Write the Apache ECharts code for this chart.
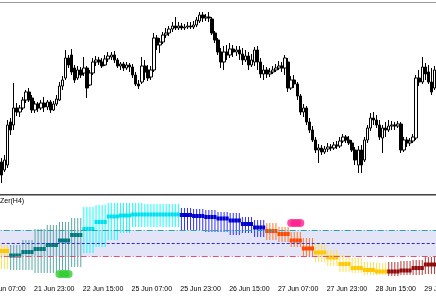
<!DOCTYPE html>
<html><head><meta charset="utf-8">
<script src="https://cdn.jsdelivr.net/npm/echarts@6/dist/echarts.min.js"></script>
<style>html,body{margin:0;padding:0;background:#fff;}#c{width:436px;height:300px;}</style>
</head><body><div id="c"></div>
<script>
// ---- time axis (H1 bars) ----
const barCount = 149;            // H1 bars on the axis (first few are left of the visible area)
const tickEvery = 16;            // a time label every 16 H1 bars
const tickLabels = ["21 Jun 07:00","21 Jun 23:00","22 Jun 15:00","25 Jun 07:00","25 Jun 23:00",
                    "26 Jun 15:00","27 Jun 07:00","27 Jun 23:00","28 Jun 15:00","29 Jun 07:00"];
const firstCandle = 6;           // index of the first drawn candle

// ---- price candles (H1) ----
const open = [38,30,35,78,75,92,88,92,100,108,
 102,90,96,92,97,93,98,90,96,100,
 114,122,142,145,132,122,130,127,132,115,
 127,138,140,138,135,141,143,145,140,134,
 136,132,135,133,125,116,118,134,130,123,
 130,162,155,158,165,167,171,174,172,174,
 172,173,174,173,175,179,185,182,183,181,
 167,160,148,138,148,145,151,148,150,146,
 140,144,135,138,150,138,126,130,126,128,
 130,132,134,132,138,112,120,116,104,88,
 92,78,70,60,50,52,48,51,53,52,
 55,54,59,63,60,57,50,35,50,40,
 60,72,82,80,75,62,72,70,74,75,
 74,76,50,60,57,59,62,122,118,133,
 128,118,112];
const close = [25,40,75,70,92,88,92,100,108,100,
 90,96,92,97,93,98,90,96,101,114,
 120,142,135,128,120,130,125,132,112,127,
 138,140,138,134,141,144,145,140,134,136,
 132,135,133,125,116,114,134,128,122,130,
 162,155,158,165,167,171,174,172,174,172,
 173,174,173,175,180,185,182,183,182,167,
 160,148,138,148,145,151,148,150,146,140,
 144,135,140,150,138,126,130,126,128,130,
 132,134,132,142,112,120,116,104,88,92,
 78,70,60,50,52,48,51,53,52,55,
 54,59,63,60,57,50,40,50,35,60,
 72,82,80,75,63,72,70,74,75,74,
 76,50,60,57,59,63,122,118,133,126,
 118,108,130];
const low = [17,28,32,65,70,84,83,90,97,98,
 87,87,88,90,88,90,87,89,94,99,
 110,120,132,125,117,120,122,124,102,114,
 125,134,135,132,134,138,140,137,132,130,
 129,130,128,122,114,111,116,120,119,120,
 128,150,147,156,162,164,168,170,170,170,
 170,171,171,171,173,177,178,179,178,165,
 157,145,132,130,140,142,143,144,140,135,
 138,130,133,134,130,122,120,122,123,126,
 128,130,128,125,108,110,112,100,85,83,
 75,67,58,47,37,45,46,48,49,50,
 51,52,57,57,55,48,35,27,27,38,
 57,69,75,72,60,47,63,68,70,70,
 72,47,48,53,54,57,60,114,116,120,
 116,105,110];
const high = [42,45,80,82,117,97,95,103,110,112,
 105,99,98,100,103,100,100,99,105,118,
 124,150,145,151,135,134,133,143,134,130,
 142,144,143,142,145,148,148,149,142,138,
 138,138,137,136,128,120,143,140,135,134,
 167,165,162,168,172,174,178,183,178,177,
 176,178,178,179,183,188,188,186,188,183,
 169,162,152,154,155,157,155,154,154,152,
 150,148,146,153,154,142,135,133,132,134,
 136,139,138,145,142,124,125,118,106,96,
 94,82,74,63,56,55,54,57,56,58,
 59,63,66,65,64,60,53,54,55,63,
 75,87,88,85,80,75,78,80,79,78,
 79,78,63,63,62,66,125,130,143,137,
 135,132,134];

// ---- indicator Zer(H4): one value per H4 bar (4 H1 bars each) ----
const h4First = 5;      // first H1 index of the first (partial) H4 bar
const h4Span = 4;
const indHigh  = [-2,-2,3,14,18,21,25,36,38,40,40,40,39,39,39,35,34,33,31,30,26,23,20,16,11,5,0,-7,-12,-15,-19,-20,-19,-18,-17,-14];
const indLow   = [-26,-27,-27,-30,-30,-27,-24,-10,-4,3,10,16,16,16,16,13,13,11,11,8,10,6,3,1,-4,-14,-19,-23,-29,-30,-32,-32,-33,-32,-32,-31];
const indLevel = [-8,-12.5,-9,-6,-2,2.5,8,14,21,26.5,27.5,28.5,28.5,28.5,28.5,28,27,26,24.5,22.5,19,15.5,12,9,2.5,-5.5,-9.5,-14.5,-21,-25,-27,-28.5,-28.5,-27.5,-25,-21.5];
const indState = ["gold","teal","teal","teal","teal","teal","teal","cyan","cyan","cyan","cyan","cyan","cyan","cyan","cyan",
  "blue","blue","blue","blue","blue","blue","blue","orange","orange","orange","orange",
  "gold","gold","gold","gold","gold","gold","darkred","darkred","darkred","darkred"];
const bandUpper = 13, bandMid = 0, bandLower = -13;
const buySignalH4 = [5],  buySignalValue = -31;
const sellSignalH4 = [24], sellSignalValue = 20;

const stateColors = {
  gold:   {line:'#ffe050', block:'#ffc800'},
  teal:   {line:'#5aa8a8', block:'#007a7a'},
  cyan:   {line:'#10ffff', block:'#00dff0'},
  blue:   {line:'#3030ff', block:'#0000d0'},
  orange: {line:'#ff7a2a', block:'#ff4800'},
  darkred:{line:'#b83a3a', block:'#8e0c0c'}
};

// ---- build series data ----
const cats = Array.from({length: barCount}, (_, i) => String(i));
const candleData = cats.map((_, i) => {
  const j = i - firstCandle;
  return j >= 0 && j < open.length ? [open[j], close[j], low[j], high[j]] : '-';
});
const indData = [];
for (let i = h4First; i < barCount; i++) {
  const g = Math.floor((i - h4First) / h4Span);
  indData.push([i, indLow[g], indHigh[g], indLevel[g], g]);
}
function signalPoints(groups, value) {
  const pts = [];
  groups.forEach(g => { for (let k = 0; k < h4Span; k++) { const i = h4First + g*h4Span + k; if (i < barCount) pts.push([i, value]); } });
  return pts;
}

const chart = echarts.init(document.getElementById('c'), null, {renderer: 'canvas'});
const gridLeft = -18.3, gridWidth = 454.3;
const font = 'Liberation Sans';
const tickFn = (idx) => idx % tickEvery === 0;

chart.setOption({
  animation: false,
  backgroundColor: '#ffffff',
  title: {text: 'Zer(H4)', left: 0, top: 198, padding: 0,
          textStyle: {fontSize: 7, fontWeight: 'normal', color: '#000', fontFamily: font}},
  grid: [
    {left: gridLeft, width: gridWidth, top: 2, height: 192, containLabel: false, outerBoundsMode: 'none'},
    {left: gridLeft, width: gridWidth, top: 195, height: 89, containLabel: false, outerBoundsMode: 'none'}
  ],
  xAxis: [
    {type: 'category', gridIndex: 0, data: cats, boundaryGap: true,
     axisLine: {show: true, lineStyle: {color: '#444', width: 1}}, axisTick: {show: false}, axisLabel: {show: false}, splitLine: {show: false}},
    {type: 'category', gridIndex: 0, data: cats, position: 'top', boundaryGap: true,
     axisLine: {show: true, lineStyle: {color: '#999', width: 1}}, axisTick: {show: false}, axisLabel: {show: false}, splitLine: {show: false}},
    {type: 'category', gridIndex: 1, data: cats, boundaryGap: true,
     axisLine: {show: true, lineStyle: {color: '#333', width: 1}},
     axisTick: {show: true, interval: tickFn, alignWithLabel: true, length: 5, lineStyle: {color: '#333'}},
     axisLabel: {show: true, interval: tickFn, formatter: (v, idx) => tickLabels[idx / tickEvery] || '',
                 align: 'left', margin: 2, padding: [0, 0, 0, 2], fontSize: 7, fontFamily: font, color: '#000'},
     splitLine: {show: false}},
    {type: 'category', gridIndex: 1, data: cats, position: 'top', boundaryGap: true,
     axisLine: {show: true, lineStyle: {color: '#9a9a9a', width: 1}}, axisTick: {show: false}, axisLabel: {show: false}, splitLine: {show: false}}
  ],
  yAxis: [
    {type: 'value', gridIndex: 0, min: 6, max: 198, show: false, splitLine: {show: false}},
    {type: 'value', gridIndex: 1, min: -41, max: 48, show: false, splitLine: {show: false}}
  ],
  series: [
    {type: 'candlestick', xAxisIndex: 0, yAxisIndex: 0, data: candleData, barWidth: 3,
     itemStyle: {color: '#ffffff', color0: '#000000', borderColor: '#000000', borderColor0: '#000000', borderWidth: 1}},
    {type: 'line', xAxisIndex: 2, yAxisIndex: 1, data: [], silent: true, z: 1,
     markArea: {silent: true, itemStyle: {color: '#e4e4f8'}, data: [[{yAxis: bandLower}, {yAxis: bandUpper}]]},
     markLine: {silent: true, symbol: 'none', label: {show: false},
       data: [
         {yAxis: bandUpper, lineStyle: {color: '#2aa5a5', width: 1, type: [6, 2, 1, 2]}},
         {yAxis: bandMid,   lineStyle: {color: '#2828e0', width: 1, type: [3, 2]}},
         {yAxis: bandLower, lineStyle: {color: '#e0507a', width: 1, type: [6, 2, 1, 2]}}
       ]}},
    {type: 'custom', xAxisIndex: 2, yAxisIndex: 1, data: indData, z: 3,
     encode: {x: 0, y: [1, 2, 3]},
     renderItem: (params, api) => {
       const i = api.value(0);
       const lo = api.coord([i, api.value(1)]);
       const hi = api.coord([i, api.value(2)]);
       const lv = api.coord([i, api.value(3)]);
       const w = api.size([1, 0])[0];
       const c = stateColors[indState[api.value(4)]];
       return {type: 'group', children: [
         {type: 'line', shape: {x1: lo[0], y1: lo[1], x2: hi[0], y2: hi[1]}, style: {stroke: c.line, lineWidth: 1}},
         {type: 'rect', shape: {x: lv[0] - w / 2, y: lv[1] - 2, width: w, height: 4}, style: {fill: c.block}}
       ]};
     }},
    {type: 'scatter', xAxisIndex: 2, yAxisIndex: 1, data: signalPoints(buySignalH4, buySignalValue), z: 4,
     symbol: 'circle', symbolSize: 8, itemStyle: {color: '#33cc33'}},
    {type: 'scatter', xAxisIndex: 2, yAxisIndex: 1, data: signalPoints(sellSignalH4, sellSignalValue), z: 4,
     symbol: 'circle', symbolSize: 8, itemStyle: {color: '#ff1f8e'}}
  ]
});
</script></body></html>
